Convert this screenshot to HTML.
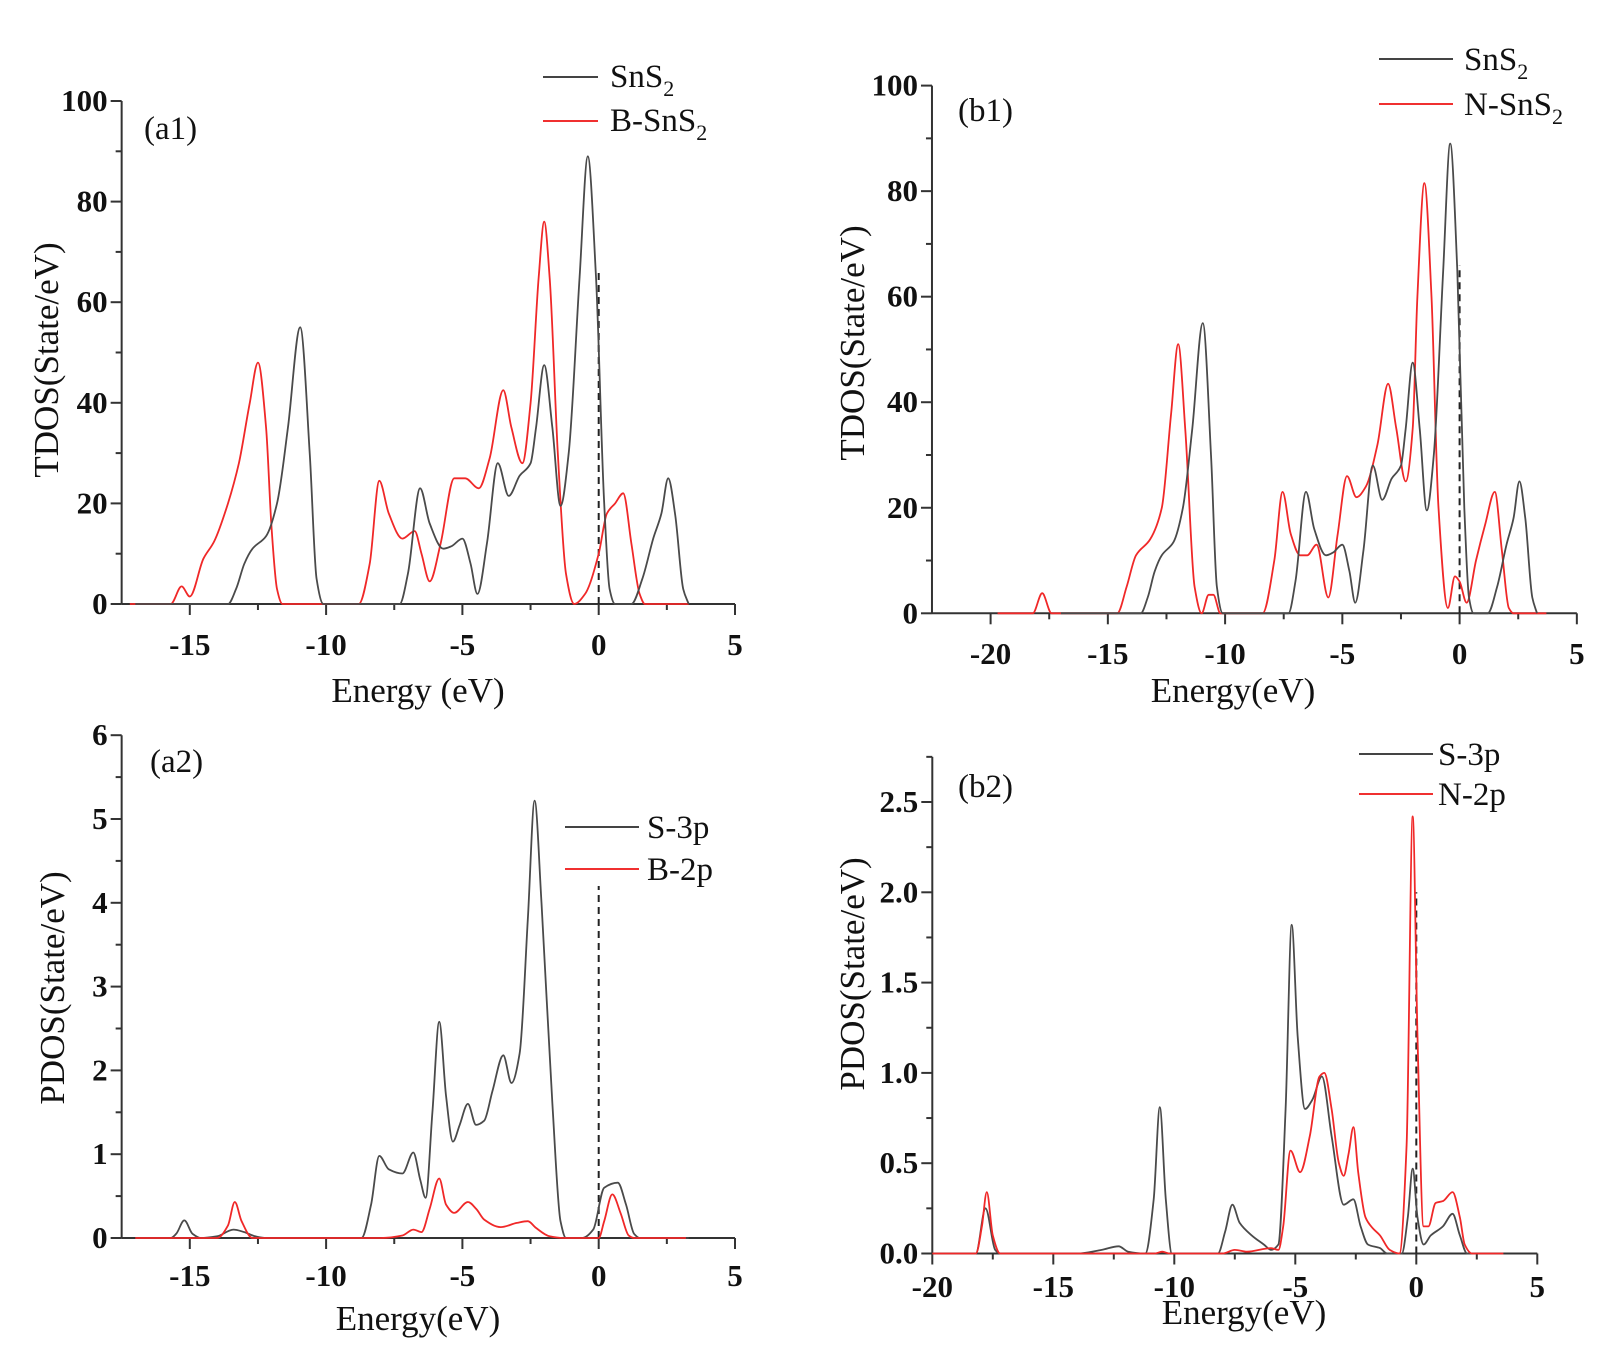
<!DOCTYPE html>
<html><head><meta charset="utf-8"><style>
html,body{margin:0;padding:0;background:#fff;}
svg{display:block;}
text{font-family:"Liberation Serif",serif;fill:#111;}
.tk{font-weight:bold;font-size:31px;}
.ti{font-size:35px;}
.lg{font-size:33px;}
.pl{font-size:33px;}
</style></head><body>
<svg id="s" width="1608" height="1346" viewBox="0 0 1608 1346" xmlns="http://www.w3.org/2000/svg">
<text class="pl" x="144" y="139">(a1)</text>
<text class="lg" x="610" y="87">SnS<tspan font-size="22" dy="9">2</tspan></text>
<text class="lg" x="610" y="131">B-SnS<tspan font-size="22" dy="9">2</tspan></text>
<line x1="543" y1="77" x2="598" y2="77" stroke="#444" stroke-width="2"/>
<line x1="543" y1="121" x2="598" y2="121" stroke="#f03030" stroke-width="2"/>
<text class="ti" text-anchor="middle" transform="translate(58,360) rotate(-90)">TDOS(State/eV)</text>
<text class="ti" text-anchor="middle" x="418" y="702">Energy (eV)</text>

<text class="pl" x="958" y="121">(b1)</text>
<text class="lg" x="1464" y="70">SnS<tspan font-size="22" dy="9">2</tspan></text>
<text class="lg" x="1464" y="115">N-SnS<tspan font-size="22" dy="9">2</tspan></text>
<line x1="1379" y1="59" x2="1453" y2="59" stroke="#444" stroke-width="2"/>
<line x1="1379" y1="104" x2="1453" y2="104" stroke="#f03030" stroke-width="2"/>
<text class="ti" text-anchor="middle" transform="translate(864,343) rotate(-90)">TDOS(State/eV)</text>
<text class="ti" text-anchor="middle" x="1233" y="702">Energy(eV)</text>

<text class="pl" x="150" y="772">(a2)</text>
<text class="lg" x="647" y="838">S-3p</text>
<text class="lg" x="647" y="880">B-2p</text>
<line x1="565" y1="827" x2="639" y2="827" stroke="#444" stroke-width="2"/>
<line x1="565" y1="869" x2="639" y2="869" stroke="#f03030" stroke-width="2"/>
<text class="ti" text-anchor="middle" transform="translate(64,988) rotate(-90)">PDOS(State/eV)</text>
<text class="ti" text-anchor="middle" x="418" y="1330">Energy(eV)</text>

<text class="pl" x="958" y="797">(b2)</text>
<text class="lg" x="1438" y="765">S-3p</text>
<text class="lg" x="1438" y="805">N-2p</text>
<line x1="1359" y1="754" x2="1433" y2="754" stroke="#444" stroke-width="2"/>
<line x1="1359" y1="794" x2="1433" y2="794" stroke="#f03030" stroke-width="2"/>
<text class="ti" text-anchor="middle" transform="translate(864,974) rotate(-90)">PDOS(State/eV)</text>
<text class="ti" text-anchor="middle" x="1244" y="1324">Energy(eV)</text>
<g id="dyn"></g>
</svg>
<script>
var NS="http://www.w3.org/2000/svg",G=document.getElementById("dyn");
function el(t,a,txt){var e=document.createElementNS(NS,t);for(var k in a)e.setAttribute(k,a[k]);if(txt!=null)e.textContent=txt;G.appendChild(e);return e;}
function mono(d){var n=d.length,x=d.map(q=>q[0]),y=d.map(q=>q[1]),del=[],m=[];
 for(var i=0;i<n-1;i++)del.push((y[i+1]-y[i])/(x[i+1]-x[i]));
 m[0]=del[0];m[n-1]=del[n-2];
 for(var i=1;i<n-1;i++){if(del[i-1]*del[i]<=0)m[i]=0;else{var w1=2*(x[i+1]-x[i])+(x[i]-x[i-1]),w2=(x[i+1]-x[i])+2*(x[i]-x[i-1]);m[i]=(w1+w2)/(w1/del[i-1]+w2/del[i]);}}
 return m;}
function panel(p){
 var X=function(e){return p.x0+p.sx*e},Y=function(v){return p.y0-p.sy*v};
 var c="#333";
 el("line",{x1:X(p.xmin),y1:p.y0,x2:X(p.xmax),y2:p.y0,stroke:c,"stroke-width":2});
 el("line",{x1:X(p.xmin),y1:p.y0,x2:X(p.xmin),y2:Y(p.ymax),stroke:c,"stroke-width":2});
 for(var e=p.xt0;e<=p.xmax+1e-6;e+=2.5){var maj=Math.abs(e/5-Math.round(e/5))<1e-6;
  el("line",{x1:X(e),y1:p.y0,x2:X(e),y2:p.y0+(maj?11:6),stroke:c,"stroke-width":2});
  if(maj)el("text",{"class":"tk",x:X(e),y:p.xly,"text-anchor":"middle"},e==0?"0":String(e));}
 for(var i=0;i*p.ymn<=p.ymax+1e-9;i++){var v=i*p.ymn,maj=i%2==0;
  el("line",{x1:X(p.xmin),y1:Y(v),x2:X(p.xmin)-(maj?11:6),y2:Y(v),stroke:c,"stroke-width":2});
  if(maj&&v<=p.ylmax+1e-9)el("text",{"class":"tk",x:X(p.xmin)-14,y:Y(v)+10,"text-anchor":"end"},p.fmt(v));}
 el("line",{x1:X(0),y1:p.y0,x2:X(0),y2:Y(p.dash),stroke:"#222","stroke-width":2,"stroke-dasharray":"7,5"});
 p.series.forEach(function(s){
  var d=s.d,m=mono(d);
  var path="M"+X(d[0][0]).toFixed(1)+","+Y(d[0][1]).toFixed(1);
  for(var i=0;i<d.length-1;i++){var h=d[i+1][0]-d[i][0];
   var c1=[d[i][0]+h/3,d[i][1]+m[i]*h/3],c2=[d[i+1][0]-h/3,d[i+1][1]-m[i+1]*h/3];
   path+="C"+X(c1[0]).toFixed(1)+","+Y(c1[1]).toFixed(1)+" "+X(c2[0]).toFixed(1)+","+Y(c2[1]).toFixed(1)+" "+X(d[i+1][0]).toFixed(1)+","+Y(d[i+1][1]).toFixed(1);}
  el("path",{d:path,fill:"none",stroke:s.c,"stroke-width":1.8});
 });
}
var K="#4a4a4a",R="#f02828";
var sns=[[-17,0],[-13.6,0],[-13.3,3],[-13,8],[-12.7,11],[-12.2,13.5],[-11.8,20],[-11.4,35],[-10.95,55],[-10.6,30],[-10.35,5],[-10.1,0],[-7.3,0],[-7,6],[-6.55,23],[-6.2,16],[-5.7,11],[-5.4,11.5],[-5,13],[-4.7,8],[-4.45,2],[-4.1,12],[-3.7,28],[-3.3,21.5],[-2.9,25.5],[-2.5,28],[-2.3,35],[-2,47.5],[-1.7,35],[-1.4,19.5],[-1.1,30],[-0.7,65],[-0.4,89],[-0.1,65],[0.2,20],[0.4,3],[0.6,0],[1.2,0],[1.6,5],[2,13],[2.3,18],[2.55,25],[2.8,18],[3.1,3],[3.3,0]];
panel({x0:598.7,sx:27.26,y0:604,sy:5.03,xmin:-17.5,xmax:5,xt0:-15,ymax:100,ylmax:100,ymn:10,dash:66,xly:655,fmt:function(v){return String(v)},
series:[{c:R,d:[[-17.2,0],[-15.7,0],[-15.3,3.5],[-15,1.5],[-14.5,9],[-14.1,12.5],[-13.6,20],[-13.2,28],[-12.8,40],[-12.5,48],[-12.2,35],[-12,15],[-11.8,3],[-11.6,0],[-8.8,0],[-8.4,8],[-8.05,24.5],[-7.7,18],[-7.2,13],[-6.75,14.5],[-6.5,10],[-6.2,4.5],[-5.8,12],[-5.3,25],[-4.9,25],[-4.4,23],[-4,29],[-3.5,42.5],[-3.2,35],[-2.8,28],[-2.5,40],[-2.2,65],[-2,76],[-1.8,65],[-1.5,30],[-1.2,6],[-0.9,0],[-0.5,2],[0,10],[0.3,18],[0.6,20],[0.9,22],[1.2,12],[1.5,2],[1.7,0],[3.3,0]]},{c:K,d:sns}]});
panel({x0:1459.6,sx:23.45,y0:613.3,sy:5.277,xmin:-22.5,xmax:5,xt0:-20,ymax:100,ylmax:100,ymn:10,dash:66,xly:664,fmt:function(v){return String(v)},
series:[{c:R,d:[[-19.7,0],[-18.2,0],[-17.8,3.8],[-17.4,0],[-14.6,0],[-14.2,5],[-13.8,11],[-13.2,14],[-12.7,20],[-12.3,38],[-12,51],[-11.7,35],[-11.3,5],[-11,0],[-10.7,3.5],[-10.5,3.5],[-10.2,0],[-8.4,0],[-7.9,10],[-7.55,23],[-7.2,15],[-6.8,11],[-6.5,11],[-6.1,13],[-5.6,3],[-5.2,15],[-4.8,26],[-4.4,22],[-4,24],[-3.5,32],[-3.05,43.5],[-2.7,35],[-2.3,25],[-2,35],[-1.8,60],[-1.5,81.5],[-1.2,60],[-0.9,20],[-0.5,1],[-0.2,7],[0,6],[0.3,2],[0.7,10],[1.1,17],[1.5,23],[1.8,12],[2.1,1],[2.3,0],[3.7,0]]},{c:K,d:sns}]});
panel({x0:598.7,sx:27.26,y0:1238,sy:83.8,xmin:-17.5,xmax:5,xt0:-15,ymax:6,ylmax:6,ymn:0.5,dash:4.2,xly:1286,fmt:function(v){return String(v)},
series:[{c:K,d:[[-17,0],[-15.7,0],[-15.5,0.05],[-15.2,0.21],[-14.9,0.05],[-14.6,0],[-14,0.02],[-13.4,0.1],[-13,0.07],[-12.6,0.02],[-12.2,0],[-8.7,0],[-8.35,0.4],[-8.05,0.98],[-7.7,0.82],[-7.2,0.77],[-6.8,1.02],[-6.55,0.7],[-6.35,0.48],[-6.1,1.5],[-5.85,2.58],[-5.6,1.7],[-5.35,1.15],[-5.1,1.35],[-4.8,1.6],[-4.5,1.35],[-4.2,1.4],[-3.9,1.75],[-3.5,2.18],[-3.2,1.85],[-2.9,2.2],[-2.6,3.8],[-2.35,5.22],[-2.1,4],[-1.7,1.6],[-1.4,0.2],[-1.2,0],[-0.6,0],[-0.2,0.1],[0.2,0.6],[0.7,0.66],[1,0.4],[1.3,0.05],[1.5,0],[3.3,0]]},
{c:R,d:[[-17,0],[-14,0],[-13.6,0.15],[-13.35,0.43],[-13.1,0.2],[-12.7,0],[-8,0],[-7.2,0.03],[-6.8,0.1],[-6.5,0.07],[-6.2,0.35],[-5.85,0.71],[-5.6,0.4],[-5.3,0.3],[-4.8,0.43],[-4.5,0.35],[-4.2,0.22],[-3.6,0.13],[-3,0.18],[-2.6,0.2],[-2.3,0.12],[-1.8,0.02],[-1.3,0],[0,0],[0.2,0.2],[0.5,0.52],[0.8,0.3],[1.1,0.03],[1.3,0],[3.2,0]]}]});
panel({x0:1416.3,sx:24.2,y0:1253.5,sy:180.6,xmin:-20,xmax:5,xt0:-20,ymax:2.75,ylmax:2.5,ymn:0.25,dash:2.0,xly:1297,fmt:function(v){return v.toFixed(1)},
series:[{c:K,d:[[-20,0],[-18.2,0],[-17.8,0.25],[-17.4,0.02],[-17.2,0],[-14,0],[-13,0.02],[-12.3,0.04],[-11.9,0.01],[-11.2,0],[-10.85,0.3],[-10.6,0.81],[-10.35,0.3],[-10.1,0],[-8.2,0],[-7.9,0.12],[-7.6,0.27],[-7.3,0.17],[-6.8,0.1],[-6.3,0.05],[-6,0.02],[-5.7,0.05],[-5.4,0.8],[-5.15,1.82],[-4.9,1.2],[-4.6,0.8],[-4.3,0.85],[-3.9,0.98],[-3.5,0.65],[-3,0.27],[-2.6,0.3],[-2.3,0.15],[-2,0.05],[-1.5,0.03],[-1.2,0],[-0.6,0],[-0.35,0.2],[-0.15,0.47],[0.05,0.2],[0.3,0.05],[0.6,0.1],[1.1,0.15],[1.5,0.22],[1.8,0.1],[2.1,0],[2.5,0]]},
{c:R,d:[[-20,0],[-18.2,0],[-17.95,0.15],[-17.75,0.34],[-17.5,0.1],[-17.2,0],[-10.8,0],[-10.5,0.01],[-10.2,0],[-8,0],[-7.5,0.02],[-7,0.01],[-6,0.03],[-5.7,0.02],[-5.5,0.15],[-5.2,0.57],[-4.8,0.45],[-4.4,0.65],[-4,0.98],[-3.8,1.0],[-3.5,0.8],[-3.2,0.5],[-3,0.43],[-2.8,0.55],[-2.6,0.7],[-2.4,0.45],[-2.1,0.2],[-1.8,0.14],[-1.5,0.1],[-1.1,0.02],[-0.7,0],[-0.4,0.6],[-0.15,2.42],[0.05,1.2],[0.3,0.15],[0.5,0.15],[0.8,0.28],[1.1,0.29],[1.5,0.34],[1.8,0.2],[2,0.05],[2.3,0],[3.6,0]]}]});
</script>
</body></html>
